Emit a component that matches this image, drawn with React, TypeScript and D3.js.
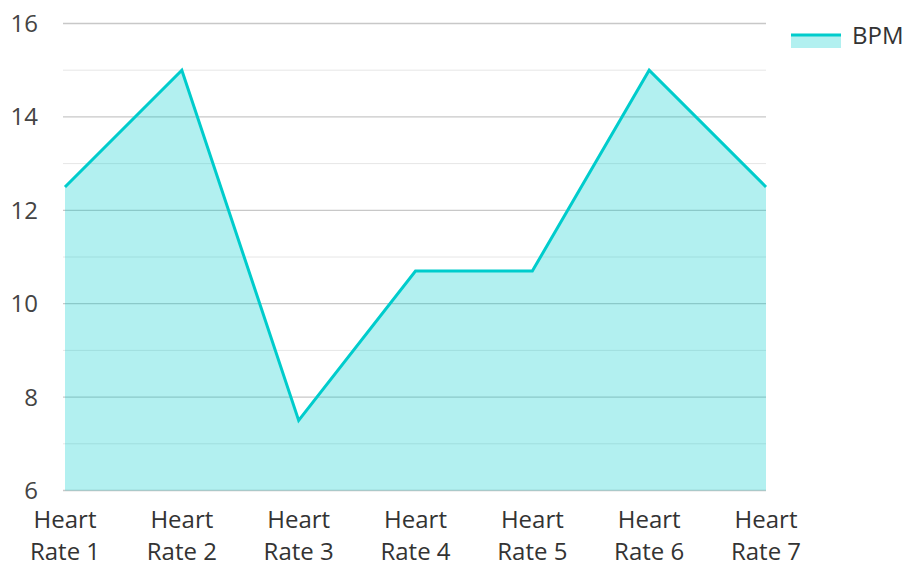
import React from "react";
import * as d3 from "d3";

const categories = ["Heart Rate 1", "Heart Rate 2", "Heart Rate 3", "Heart Rate 4", "Heart Rate 5", "Heart Rate 6", "Heart Rate 7"];
const bpm = [12.5, 15, 7.5, 10.7, 10.7, 15, 12.5];
const majorTicks = [6, 8, 10, 12, 14, 16];
const minorTicks = [7, 9, 11, 13, 15];
const seriesName = "BPM";

const W = 904, H = 562;
const left = 65, right = 766, top = 23.5, bottom = 490.5;
const LINE = "#00cccc";
const FILL = "rgba(0,204,204,0.3)";
const FONT = "'Open Sans', sans-serif";

export default function App() {
  const x = d3.scalePoint<string>().domain(categories).range([left, right]);
  const y = d3.scaleLinear().domain([6, 16]).range([bottom, top]);
  const pts = categories.map((c, i) => [x(c)!, y(bpm[i])] as [number, number]);
  const line = d3.line()(pts)!;
  const area = d3.area().x((d) => d[0]).y0(y(6)).y1((d) => d[1])(pts)!;
  return (
    <svg width={W} height={H} style={{ position: "absolute", left: 0, top: 0 }}>
      {minorTicks.map((t) => (
        <line key={"m" + t} x1={63} x2={right} y1={y(t)} y2={y(t)} stroke="#e6e6e6" strokeWidth={1} />
      ))}
      {majorTicks.map((t) => (
        <line key={"M" + t} x1={63} x2={right} y1={y(t)} y2={y(t)} stroke="#c8c8c8" strokeWidth={1.3} />
      ))}
      <path d={area} fill={FILL} />
      <path d={line} fill="none" stroke={LINE} strokeWidth={3} strokeLinejoin="miter" />
      {majorTicks.map((t) => (
        <text key={"l" + t} x={38} y={y(t) + 8.5} textAnchor="end" fontFamily={FONT} fontSize={24} fill="#444">
          {t}
        </text>
      ))}
      {categories.map((c) => {
        const parts = c.split(" ");
        const l1 = parts[0];
        const l2 = parts.slice(1).join(" ");
        return (
          <text key={c} textAnchor="middle" fontFamily={FONT} fontSize={24} fill="#333">
            <tspan x={x(c)} y={527.5}>{l1}</tspan>
            <tspan x={x(c)} y={560}>{l2}</tspan>
          </text>
        );
      })}
      <rect x={791} y={35} width={50} height={13} fill={FILL} />
      <line x1={791} x2={841} y1={35} y2={35} stroke={LINE} strokeWidth={3} />
      <text x={852} y={43.5} fontFamily={FONT} fontSize={24} fill="#333">{seriesName}</text>
    </svg>
  );
}
